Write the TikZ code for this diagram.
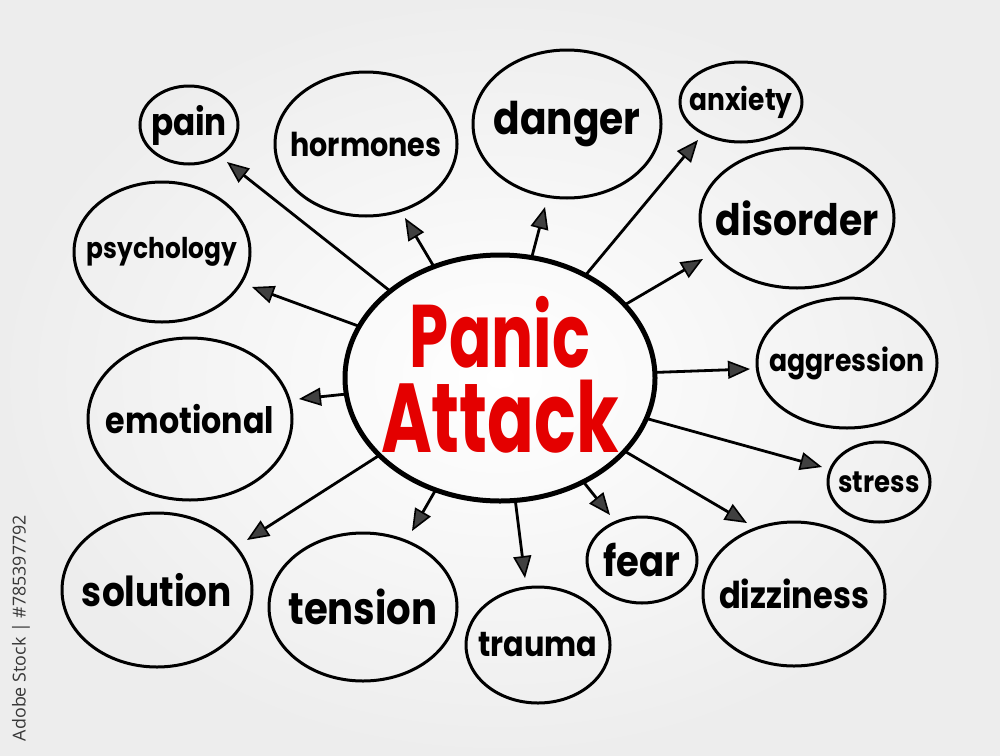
\documentclass[tikz,border=0pt]{standalone}
\usepackage{fontspec}
\setmainfont{Poppins}
\newfontfamily\wmfont{Open Sans}
\usetikzlibrary{arrows.meta,shapes.geometric}
\definecolor{panicred}{RGB}{228,0,0}
\definecolor{wmgray}{RGB}{55,55,55}
\newcommand{\fitw}[2]{\makebox[0pt]{\resizebox{#1}{!}{\scalebox{1}[1.15]{\bfseries #2}}}}
\newcommand{\fitr}[2]{\resizebox{#1}{!}{\scalebox{1}[1.42]{\bfseries #2}}}
\begin{document}
\begin{tikzpicture}[x=0.5pt,y=-0.5pt,
  bub/.style={ellipse, draw=black, line width=1.5pt, inner sep=0pt, outer sep=0pt},
  hub/.style={ellipse, draw=black, line width=2.5pt, inner sep=0pt, outer sep=0pt},
  arr/.style={line width=1.4pt, -{Triangle[length=11pt,width=9pt,line width=0.8pt,fill=black!75]}}
]
\shade[inner color=white, outer color=black!7] (0,0) rectangle (1000,755);
\useasboundingbox (0,0) rectangle (1000,755);

% central hub
\node[hub, minimum width=155pt, minimum height=123pt, text=panicred] (pa) at (500,378)
  {\makebox[0pt]{\begin{tabular}{@{}c@{}}\fitr{90pt}{Panic}\\[3pt]\fitr{119pt}{Attack}\end{tabular}}};

% satellite bubbles
\node[bub, minimum width=49pt,   minimum height=39pt] (pain)  at (189,125) {\fitw{38pt}{pain}};
\node[bub, minimum width=91pt,   minimum height=72pt] (horm)  at (366,144) {\fitw{75.5pt}{hormones}};
\node[bub, minimum width=94pt,   minimum height=74pt] (dang)  at (567,124) {\fitw{73.5pt}{danger}};
\node[bub, minimum width=61pt,   minimum height=40pt] (anx)   at (741,102) {\fitw{51.5pt}{anxiety}};
\node[bub, minimum width=97pt,   minimum height=70pt] (dis)   at (797,218) {\fitw{81.5pt}{disorder}};
\node[bub, minimum width=88pt,   minimum height=70pt] (psy)   at (162,252) {\fitw{75pt}{psychology}};
\node[bub, minimum width=90pt,   minimum height=65pt] (agg)   at (847,363) {\fitw{77.5pt}{aggression}};
\node[bub, minimum width=102pt,  minimum height=81pt] (emo)   at (190,419) {\fitw{84pt}{emotional}};
\node[bub, minimum width=51pt,   minimum height=40pt] (str)   at (879,482) {\fitw{40.5pt}{stress}};
\node[bub, minimum width=95pt,   minimum height=77pt] (sol)   at (157,590) {\fitw{75pt}{solution}};
\node[bub, minimum width=94pt,   minimum height=74pt] (ten)   at (363,607) {\fitw{74.5pt}{tension}};
\node[bub, minimum width=72pt,   minimum height=58pt] (tra)   at (538,645) {\fitw{59.5pt}{trauma}};
\node[bub, minimum width=55pt,   minimum height=43pt] (fear)  at (642,560) {\fitw{38.5pt}{fear}};
\node[bub, minimum width=91pt,   minimum height=72pt] (diz)   at (794,594) {\fitw{75pt}{dizziness}};

% arrow tips (free ends)
\coordinate (tpain) at (227,162);
\coordinate (thorm) at (405,218);
\coordinate (tdang) at (545,207);
\coordinate (tanx)  at (698,140);
\coordinate (tdis)  at (703,259);
\coordinate (tpsy)  at (252,287);
\coordinate (tagg)  at (750,369);
\coordinate (temo)  at (299,399);
\coordinate (tstr)  at (822,467);
\coordinate (tsol)  at (247,540);
\coordinate (tten)  at (412,531);
\coordinate (ttra)  at (525,578);
\coordinate (tfear) at (610,515);
\coordinate (tdiz)  at (747,523);

\foreach \t in {tpain,thorm,tdang,tanx,tdis,tpsy,tagg,temo,tstr,tsol,tten,ttra,tfear,tdiz}
  \draw[arr] (pa) -- (\t);

% watermark text
\node[rotate=90, text=wmgray, inner sep=0pt] (wm) at (21,628)
  {\resizebox{113pt}{!}{\wmfont Adobe Stock | \#785397792}};
\end{tikzpicture}
\end{document}
